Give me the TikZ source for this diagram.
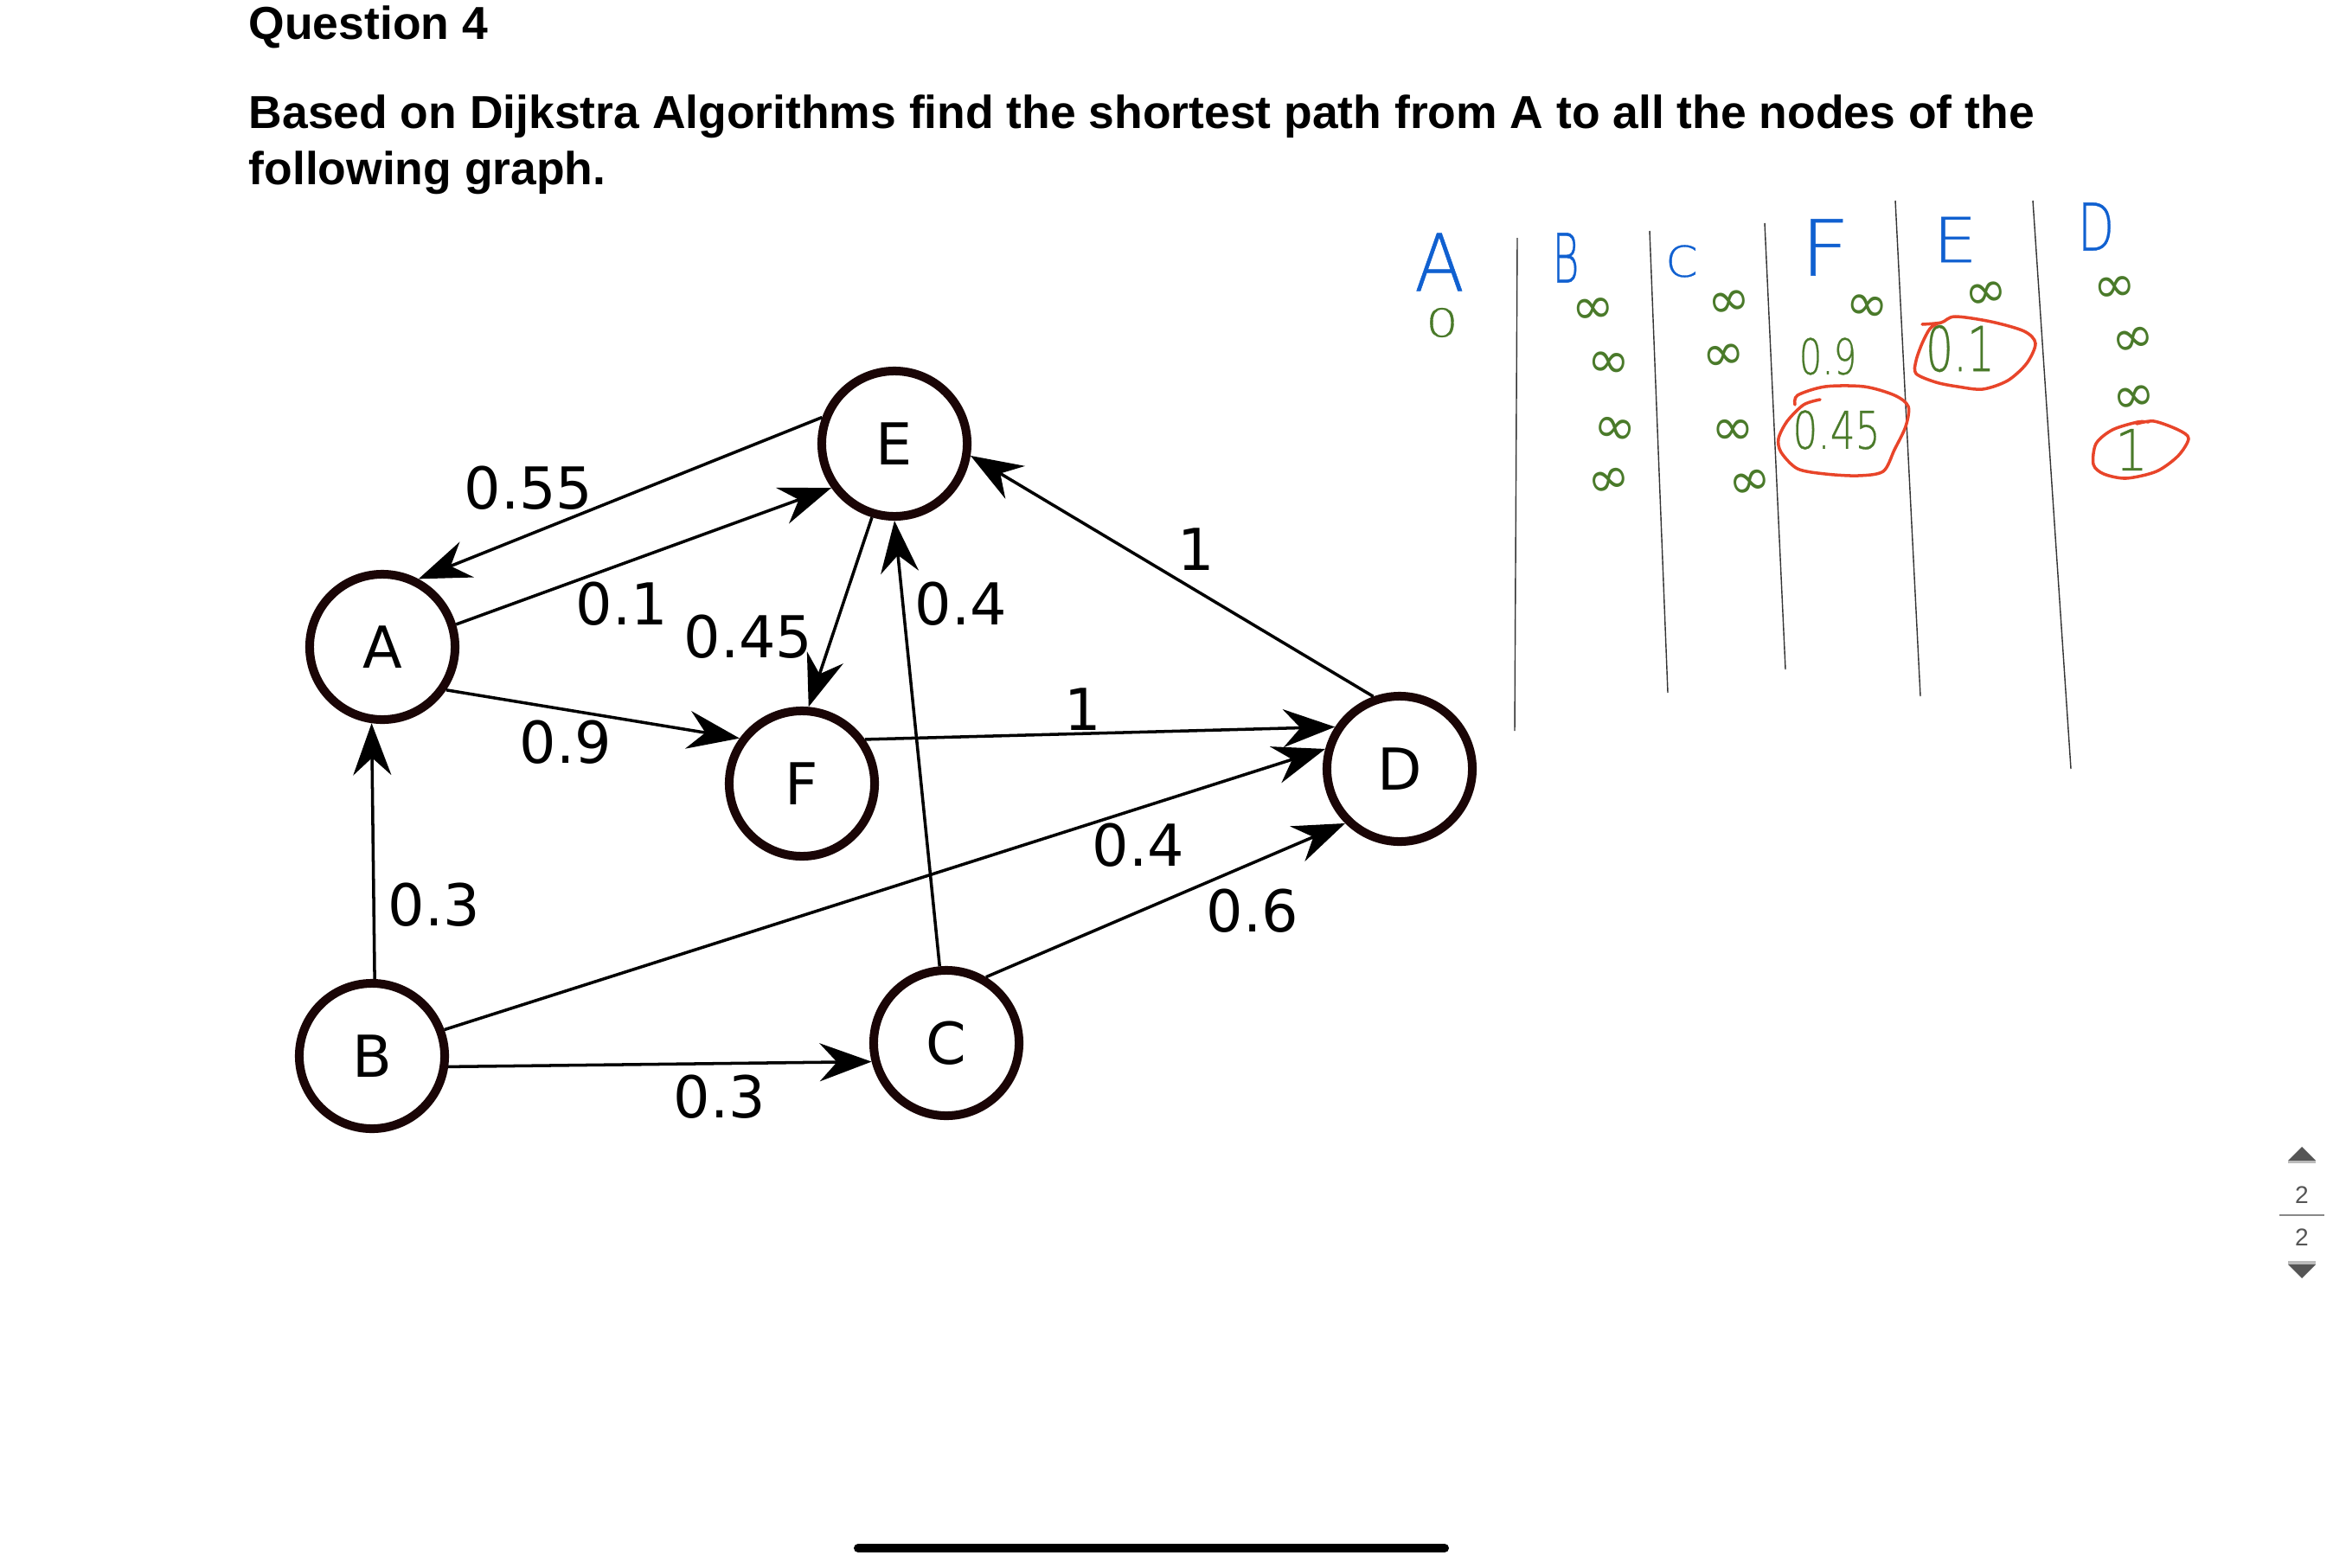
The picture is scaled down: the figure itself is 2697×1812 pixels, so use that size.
\documentclass[tikz,border=0pt]{standalone}
\usepackage{fontspec}
\usepackage{amsmath}
\usepackage{amssymb}
\usetikzlibrary{arrows.meta}
\setmainfont{DejaVu Sans}
\newfontfamily\titlefont{Liberation Sans}
\newfontfamily\penfont[FakeBold=0.6]{DejaVu Sans ExtraLight}
\definecolor{ringcol}{HTML}{1A0506}
\definecolor{penblue}{HTML}{1060D0}
\definecolor{pengreen}{HTML}{4A7A2A}
\definecolor{penred}{HTML}{E8452A}
\definecolor{sidegray}{HTML}{555555}
\tikzset{
    vertex/.style={circle, draw=ringcol, line width=2.85pt, minimum size=1.68cm, inner sep=0pt, font=\fontsize{19}{24}\selectfont},
    link/.style={line width=1pt, -{Stealth[length=0.6cm, width=0.44cm, inset=0.2cm]}},
    weight/.style={inner sep=0pt, font=\fontsize{19}{24}\selectfont},
    headline/.style={anchor=base west, inner sep=0pt, font=\titlefont\bfseries\fontsize{15.2}{18}\selectfont},
    rule/.style={line width=0.4pt, black!80},
    penletter/.style={inner sep=0pt, text=penblue, font=\penfont\fontsize{20}{24}\selectfont},
    pennumber/.style={inner sep=0pt, text=pengreen, font=\penfont\fontsize{17}{20}\selectfont},
    peninf/.style={inner sep=0pt, text=pengreen, font=\fontsize{17}{20}\selectfont},
    redring/.style={penred, line width=1pt, line cap=round, line join=round},
    sidenum/.style={inner sep=0pt, text=sidegray, font=\titlefont\fontsize{8}{10}\selectfont},
}
\begin{document}
\begin{tikzpicture}[x=0.01cm, y=-0.01cm]
    \useasboundingbox (0,0) rectangle (2697,1812);

    \node[headline] (q4) at (287,45) {Question 4};
    \node[headline] (line1) at (287,148) {Based on Dijkstra Algorithms find the shortest path from A to all the nodes of the};
    \node[headline] (line2) at (287,213) {following graph.};

    \node[vertex] (A) at (442,748) {A};
    \node[vertex] (B) at (430,1221) {B};
    \node[vertex] (C) at (1094,1206) {C};
    \node[vertex] (D) at (1618,889) {D};
    \node[vertex] (E) at (1034,513) {E};
    \node[vertex] (F) at (927,906) {F};

    \draw[link] (E.160) -- (A.62);
    \draw[link] (A.17) -- (E.215);
    \draw[link] (E.253) -- (F.85);
    \draw[link] (C.95) -- (E.270);
    \draw[link] (D.110) -- (E.351);
    \draw[link] (A.326) -- (F.144);
    \draw[link] (F.35) -- (D.147);
    \draw[link] (B.88) -- (A.262);
    \draw[link] (B.20) -- (D.165);
    \draw[link] (B.352) -- (C.194);
    \draw[link] (C.59) -- (D.225);

    \node[weight] (wEA) at (611,564) {0.55};
    \node[weight] (wAE) at (719,698) {0.1};
    \node[weight] (wEF) at (865,736) {0.45};
    \node[weight] (wCE) at (1111,698) {0.4};
    \node[weight] (wDE) at (1383,635) {1};
    \node[weight] (wAF) at (654,858) {0.9};
    \node[weight] (wFD) at (1252,820) {1};
    \node[weight] (wBA) at (502,1046) {0.3};
    \node[weight] (wBD) at (1316,977) {0.4};
    \node[weight] (wCD) at (1448,1053) {0.6};
    \node[weight] (wBC) at (832,1268) {0.3};

    \draw[rule] (1754,275) -- (1751,845);
    \draw[rule] (1907,267) -- (1928,801);
    \draw[rule] (2040,258) -- (2064,774);
    \draw[rule] (2191,232) -- (2220,805);
    \draw[rule] (2350,232) -- (2394,889);

    \foreach \x/\y/\sx/\sy/\name/\txt in {1664/303/1.2/1.3/hA/A, 1810/298/.67/1.12/hB/B, 1944/302/.76/.7/hC/C, 2110/286/1.4/1.27/hF/F, 2260/277/1.15/1.02/hE/E, 2423/262/.78/1.08/hD/D}
        \node[penletter] (\name) at (\x,\y) {\scalebox{\sx}[\sy]{\txt}};

    \foreach \x/\y/\r [count=\i] in {1842/360/5, 1860/422/-5, 1867/498/-10, 1861/558/15, 1999/352/10, 1993/414/8, 2003/500/0, 2024/560/15, 2158/357/-8, 2296/342/10, 2445/335/5, 2467/395/15, 2467/462/10}
        \node[peninf, rotate=\r] (inf\i) at (\x,\y) {∞};

    \node[pennumber] (n0) at (1667,373) {\scalebox{1}[.75]{0}};
    \node[pennumber] (n09) at (2113,412) {\scalebox{.7}[.95]{0.9}};
    \node[pennumber] (n01) at (2266,403) {\scalebox{.84}[1.2]{0.1}};
    \node[pennumber] (n045) at (2123,497) {\scalebox{.76}[1]{0.45}};
    \node[pennumber] (n1) at (2464,520) {\scalebox{1}[1.1]{1}};

    \draw[redring] plot[smooth] coordinates {(2222,375) (2244,373) (2260,366) (2302,372) (2340,383) (2353,397) (2343,420) (2321,440) (2292,450) (2263,447) (2238,442) (2215,432) (2215,417) (2222,397) (2231,380) (2240,374)};
    \draw[redring] plot[smooth] coordinates {(2075,468) (2078,457) (2110,447) (2155,447) (2190,457) (2206,470) (2203,493) (2190,520) (2177,545) (2148,550) (2110,548) (2078,542) (2059,523) (2056,507) (2066,487) (2085,468) (2104,462)};
    \draw[redring] plot[smooth] coordinates {(2470,490) (2490,487) (2518,497) (2530,507) (2518,527) (2493,545) (2458,553) (2432,548) (2420,537) (2423,513) (2442,497) (2471,488) (2484,488)};

    \fill[sidegray] (2661,1326) -- (2677,1342) -- (2645,1342) -- cycle;
    \fill[sidegray!40] (2645,1342) rectangle (2677,1345);
    \node[sidenum] (pageA) at (2661,1382) {2};
    \draw[sidegray!70, line width=0.3pt] (2635,1405) -- (2687,1405);
    \node[sidenum] (pageB) at (2661,1431) {2};
    \fill[sidegray!40] (2645,1458) rectangle (2677,1462);
    \fill[sidegray] (2645,1462) -- (2677,1462) -- (2661,1478) -- cycle;

    \draw[line width=2.85pt, line cap=round] (992,1790) -- (1670,1790);
\end{tikzpicture}
\end{document}
